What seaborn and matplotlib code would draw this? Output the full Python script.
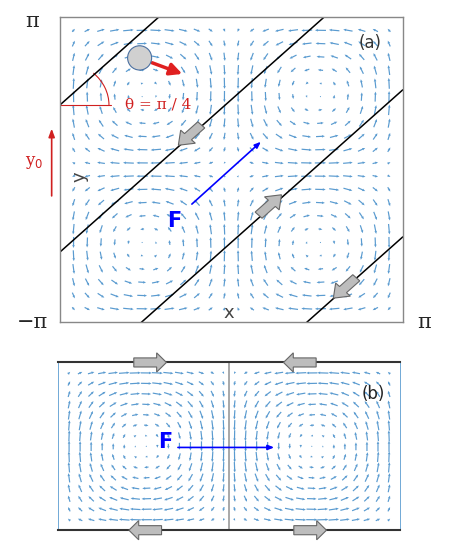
import numpy as np
import matplotlib.pyplot as plt
import seaborn as sns
from matplotlib.patches import FancyArrow, Ellipse, Arc

sns.set_theme(style="white")
plt.rcParams['font.family'] = ['DejaVu Sans']

PI = np.pi
# cellular flow, stream function psi = sin x sin y
nx_a, ny_a = 24, 22
nx_b, ny_b = 30, 15
line_offsets = [4.47, 1.44, -1.50, -4.53]   # lines y = x + c in panel (a)
gray_arrows_a = [(-0.76, 0.71, -1), (0.71, -0.73, 1), (2.08, -2.44, -1)]
gray_arrows_b = [(-1.45, PI, 1), (1.30, PI, -1), (-1.54, 0.0, -1), (1.49, 0.0, 1)]
qcol = "#5a9bd0"

fig = plt.figure(figsize=(4.5, 5.5), dpi=100)
ax = fig.add_axes([0.133, 0.4145, 0.762, 0.5545])
bx = fig.add_axes([0.129, 0.036, 0.76, 0.305])

def field(ax, xs, ys):
    X, Y = np.meshgrid(xs, ys)
    U = np.sin(X) * np.cos(Y)
    V = -np.cos(X) * np.sin(Y)
    ax.quiver(X, Y, U, V, color=qcol, scale=30, width=0.0035,
              headwidth=2.2, headlength=2.5, headaxislength=2.3, pivot="mid")

# ---- panel (a)
xs = np.linspace(-PI, PI, nx_a + 2)[1:-1]
ys = np.linspace(-PI, PI, ny_a + 2)[1:-1]
field(ax, xs, ys)
ax.set_xlim(-PI, PI)
ax.set_ylim(-PI, PI)
ax.set_xticks([]); ax.set_yticks([])
for s in ax.spines.values():
    s.set_color("#888888"); s.set_linewidth(1)
xl = np.array([-PI, PI])
for c in line_offsets:
    ax.plot(xl, xl + c, color="black", lw=1.1)

def gray(ax, x, y, dx, dy):
    ax.add_patch(FancyArrow(x - dx / 2, y - dy / 2, dx, dy, width=0.18, head_width=0.38,
                            head_length=0.25, length_includes_head=True,
                            fc="#bdbdbd", ec="#666666", lw=0.8, clip_on=False, zorder=5))

for x, y, d in gray_arrows_a:
    gray(ax, x, y, 0.42 * d, 0.42 * d)

ax.add_patch(Ellipse((-1.68, 2.30), 0.44, 0.50, fc="#d0d0d0", ec="#4a6fa0", lw=0.8, zorder=6))
ax.annotate("", xy=(-0.85, 1.95), xytext=(-1.5, 2.22),
            arrowprops=dict(arrowstyle="-|>,head_width=0.3,head_length=0.6", color="#e02020", lw=2.5))
ax.plot([-PI, -2.2], [1.33, 1.33], color="#d02020", lw=0.8)
ax.add_patch(Arc((-PI, 1.33), 1.8, 1.8, theta1=0, theta2=47, color="#d02020", lw=0.8))
ax.text(-1.95, 1.33, "θ = π / 4", color="#d02020", fontsize=11, va="center", family="serif")
ax.annotate("", xy=(-PI - 0.15, 0.9), xytext=(-PI - 0.15, -0.6),
            arrowprops=dict(arrowstyle="-|>,head_width=0.15,head_length=0.4", color="#d02020", lw=1.2),
            annotation_clip=False)
ax.text(-PI - 0.3, 0.15, r"y$_0$", color="#d02020", fontsize=12, ha="right", va="center", family="serif")
ax.text(-2.95, -0.15, "y", color="#444444", fontsize=13, rotation=90, va="center")
ax.text(-0.05, -2.95, "x", color="#444444", fontsize=13, ha="center", va="center")
ax.text(2.55, 2.6, "(a)", color="#333333", fontsize=12, ha="center", va="center")
ax.text(-PI - 0.5, PI - 0.1, "π", fontsize=15, ha="center", va="center", family="serif")
ax.text(-PI - 0.5, -PI, "−π", fontsize=15, ha="center", va="center", family="serif")
ax.text(PI + 0.4, -PI, "π", fontsize=15, ha="center", va="center", family="serif")
ax.annotate("", xy=(0.58, 0.61), xytext=(-0.76, -0.75),
            arrowprops=dict(arrowstyle="-|>,head_width=0.12,head_length=0.3", color="blue", lw=1.2))
ax.text(-1.05, -1.05, "F", color="blue", fontsize=15, fontweight="bold", ha="center", va="center")

# ---- panel (b)
xs = np.linspace(-PI, PI, nx_b + 2)[1:-1]
ys = np.linspace(0, PI, ny_b + 2)[1:-1]
field(bx, xs, ys)
bx.set_xlim(-PI, PI)
bx.set_ylim(0, PI)
bx.set_xticks([]); bx.set_yticks([])
for k in ["left", "right"]:
    bx.spines[k].set_color(qcol); bx.spines[k].set_linewidth(0.6)
for k in ["top", "bottom"]:
    bx.spines[k].set_color("#333333"); bx.spines[k].set_linewidth(1.5)
bx.axvline(0, color="#999999", lw=1.2)
for x, y, d in gray_arrows_b:
    bx.add_patch(FancyArrow(x - 0.3 * d, y, 0.6 * d, 0, width=0.17, head_width=0.36,
                            head_length=0.18, length_includes_head=True,
                            fc="#bdbdbd", ec="#666666", lw=0.8, clip_on=False, zorder=5))
bx.annotate("", xy=(0.88, 1.55), xytext=(-0.99, 1.55),
            arrowprops=dict(arrowstyle="-|>,head_width=0.12,head_length=0.3", color="blue", lw=1.2))
bx.text(-1.17, 1.65, "F", color="blue", fontsize=15, fontweight="bold", ha="center", va="center")
bx.text(2.65, 2.55, "(b)", color="#222222", fontsize=12, ha="center", va="center")

fig.savefig("out.png", dpi=100)
